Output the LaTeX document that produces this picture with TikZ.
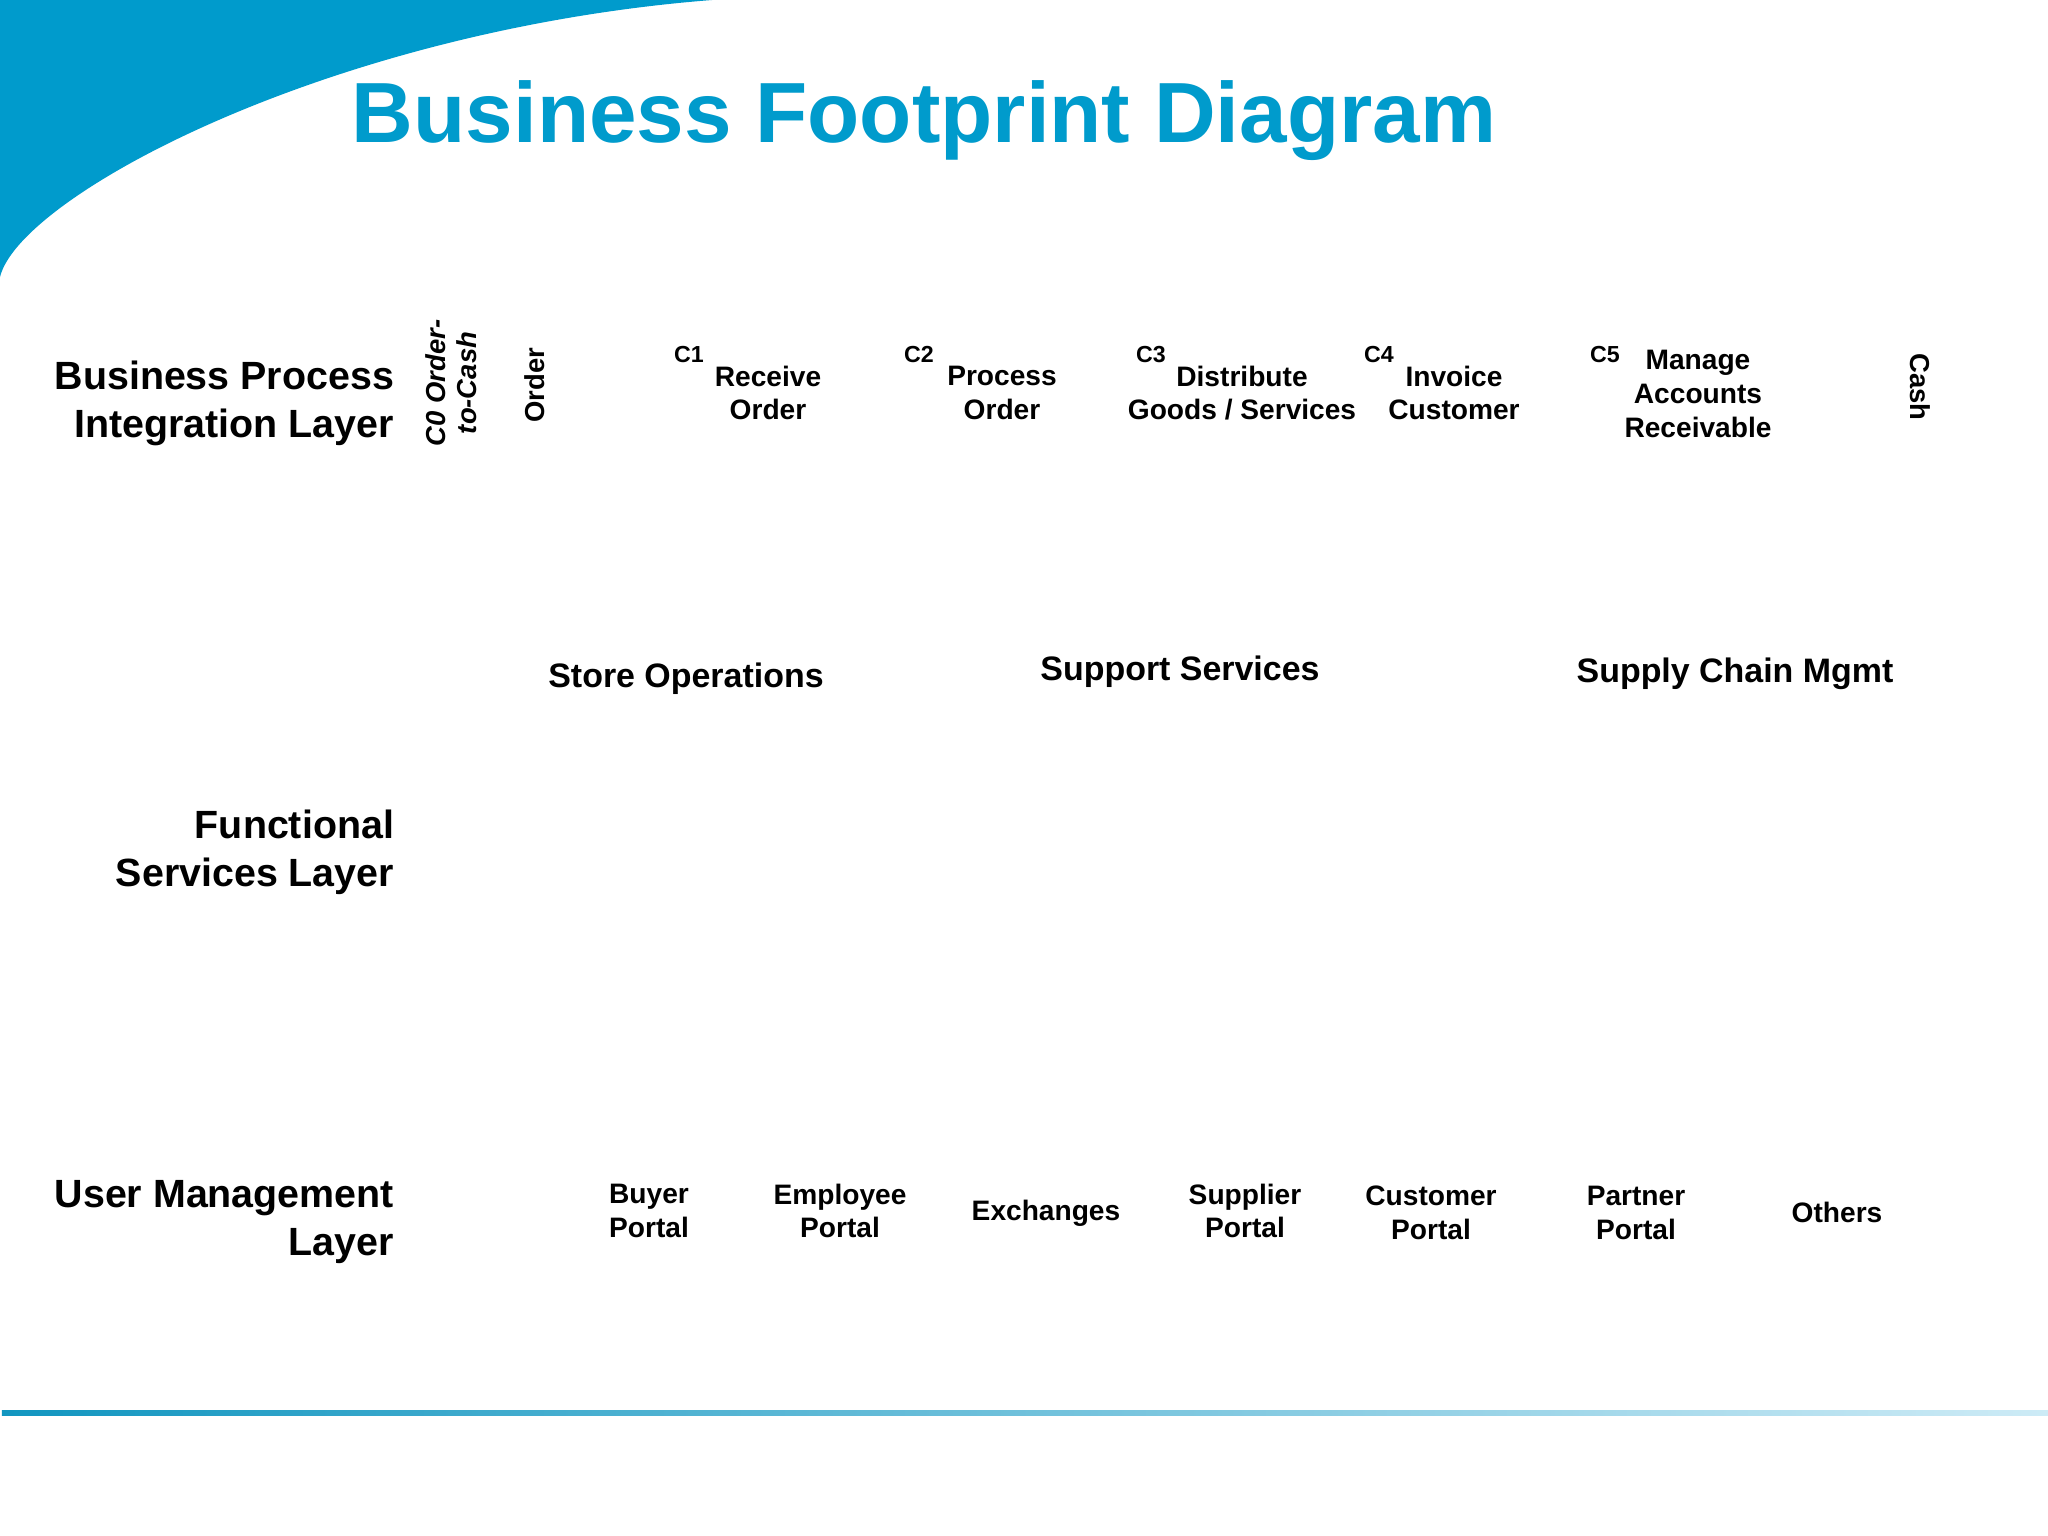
\documentclass[tikz,border=0pt]{standalone}
\usepackage{fontspec}
\setmainfont{Liberation Sans}
\definecolor{brandblue}{RGB}{0,155,204}
\definecolor{lineleft}{RGB}{18,150,192}
\definecolor{lineright}{RGB}{205,235,246}
\begin{document}
\begin{tikzpicture}[x=0.01cm,y=-0.01cm,
  every node/.style={inner sep=0pt,outer sep=0pt},
  titletext/.style={font=\fontsize{24.3pt}{29pt}\selectfont\bfseries,text=brandblue,anchor=base},
  layerlabel/.style={font=\fontsize{11.2pt}{13.7pt}\selectfont\bfseries,align=right,anchor=east},
  proclabel/.style={font=\fontsize{8pt}{9.6pt}\selectfont\bfseries,align=center},
  cnum/.style={font=\fontsize{6.6pt}{8pt}\selectfont\bfseries,anchor=base},
  vlabel/.style={font=\fontsize{7.8pt}{8.9pt}\selectfont\bfseries,align=center},
  funclabel/.style={font=\fontsize{9.65pt}{11.5pt}\selectfont\bfseries,anchor=base},
  userlabel/.style={font=\fontsize{8pt}{9.5pt}\selectfont\bfseries,align=center}]
\useasboundingbox (0,0) rectangle (2048,1536);
\fill[white] (0,0) rectangle (2048,1536);
% corner swoosh
\fill[brandblue] (0,0) -- (712,0) .. controls (330,30) and (19.6,196) .. (0,277) -- cycle;
% title
\node[titletext] (title) at (924,142) {Business Footprint Diagram};
% layer labels
\node[layerlabel] (bpil) at (394,403) {Business Process\\Integration Layer};
\node[layerlabel] (fsl) at (394,852) {Functional\\Services Layer};
\node[layerlabel] (uml) at (394,1222) {User Management\\Layer};
% business process row
\node[vlabel,rotate=90,font=\fontsize{7.8pt}{8.9pt}\selectfont\bfseries\itshape] (c0) at (451,383) {C0 Order-\\to-Cash};
\node[vlabel,rotate=90] (order) at (535,385) {Order};
\node[cnum] (c1) at (689,362) {C1};
\node[proclabel] (recv) at (768,393) {Receive\\Order};
\node[cnum] (c2) at (919,362) {C2};
\node[proclabel] (proc) at (1002,393) {Process\\Order};
\node[cnum] (c3) at (1151,362) {C3};
\node[proclabel] (dist) at (1242,393) {Distribute\\Goods / Services};
\node[cnum] (c4) at (1379,362) {C4};
\node[proclabel] (inv) at (1454,393) {Invoice\\Customer};
\node[cnum] (c5) at (1605,362) {C5};
\node[proclabel] (mar) at (1698,394) {Manage\\Accounts\\Receivable};
\node[vlabel,rotate=-90] (cash) at (1920,387) {Cash};
% functional services row
\node[funclabel] (store) at (686,687) {Store Operations};
\node[funclabel] (support) at (1180,680) {Support Services};
\node[funclabel] (supply) at (1735,682) {Supply Chain Mgmt};
% user management row
\node[userlabel] (buyer) at (649,1211) {Buyer\\Portal};
\node[userlabel] (employee) at (840,1211) {Employee\\Portal};
\node[userlabel,anchor=base] (exch) at (1046,1220) {Exchanges};
\node[userlabel] (supplier) at (1245,1211) {Supplier\\Portal};
\node[userlabel] (customer) at (1431,1213) {Customer\\Portal};
\node[userlabel] (partner) at (1636,1213) {Partner\\Portal};
\node[userlabel,anchor=base] (others) at (1837,1222) {Others};
% bottom gradient rule
\shade[left color=lineleft,right color=lineright] (2,1410) rectangle (2048,1415);
\end{tikzpicture}
\end{document}
